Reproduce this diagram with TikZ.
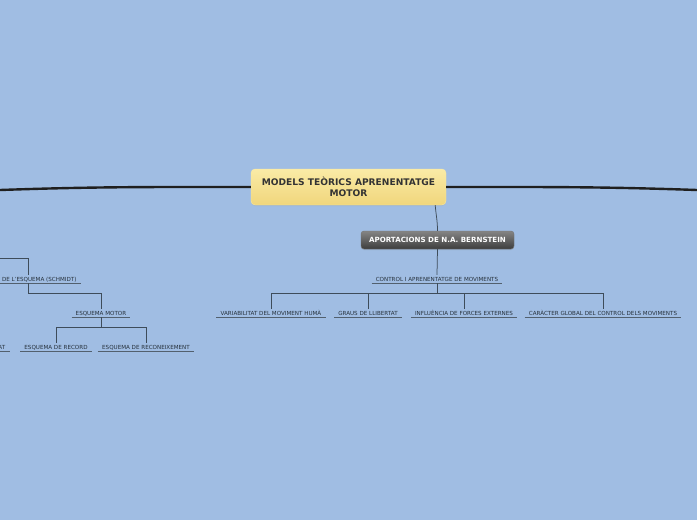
\documentclass[tikz,border=0pt]{standalone}
\usepackage{fontspec}
\setmainfont{DejaVu Sans}
\usetikzlibrary{positioning,shadows}
\definecolor{mapbg}{HTML}{A0BDE3}
\definecolor{rootTop}{HTML}{FAEBA6}
\definecolor{rootBottom}{HTML}{F0D67C}
\definecolor{leaftext}{HTML}{26313C}
\definecolor{branchline}{HTML}{3E4C5A}
\definecolor{rulecol}{HTML}{52606E}

\begin{document}
\begin{tikzpicture}[x=1pt,y=-1pt,
	root_node/.style={rounded corners=4pt,top color=rootTop,bottom color=rootBottom,draw=rootTop,minimum width=195pt,minimum height=36pt,align=center,inner sep=2pt,font=\bfseries\fontsize{9.1}{11.2}\selectfont,text=black!80,drop shadow={opacity=0.15,shadow xshift=0pt,shadow yshift=-1pt}},
	topic_node/.style={rounded corners=3pt,top color=black!48,bottom color=black!76,draw=black!55,minimum width=153pt,minimum height=18pt,inner sep=1pt,font=\bfseries\fontsize{7.1}{8}\selectfont,text=white,drop shadow={opacity=0.25,shadow xshift=0pt,shadow yshift=-1pt}},
	leaf_node/.style={anchor=south,font=\fontsize{5.6}{6}\selectfont,text=leaftext,text height=4.1pt,text depth=0pt,inner xsep=4pt,inner ysep=1.8pt,append after command={(\tikzlastnode.south west) edge[draw=rulecol,line width=0.7pt] (\tikzlastnode.south east)}},
	trunk/.style={draw=black!88,line width=2.4pt},
	branch/.style={draw=branchline,line width=0.75pt}]

	\fill[mapbg] (0,0) rectangle (697,520);
	\useasboundingbox (0,0) rectangle (697,520);
	\clip (0,0) rectangle (697,520);

	% central idea
	\node[root_node] (root) at (348.5,187) {MODELS TEÒRICS APRENENTATGE\\MOTOR};
	\coordinate (offleft) at (0,190);
	\coordinate (offright) at (697,190);
	\draw[trunk] (offleft) to[out=2,in=180] (root.west);
	\draw[trunk] (root.east) to[out=0,in=178] (offright);

	% Bernstein branch
	\node[topic_node] (bern) at (437.5,240) {APORTACIONS DE N.A. BERNSTEIN};
	\node[leaf_node] (ctrl) at (437,283) {CONTROL I APRENENTATGE DE MOVIMENTS};
	\node[leaf_node] (var) at (271,317) {VARIABILITAT DEL MOVIMENT HUMÀ};
	\node[leaf_node] (graus) at (368,317) {GRAUS DE LLIBERTAT};
	\node[leaf_node] (forces) at (464,317) {INFLUÈNCIA DE FORCES EXTERNES};
	\node[leaf_node] (global) at (603,317) {CARÀCTER GLOBAL DEL CONTROL DELS MOVIMENTS};

	\draw[branch] ([xshift=-11pt]root.south east) to[out=-85,in=90] (bern.north);
	\draw[branch] (bern.south) -- (ctrl.north);
	\foreach \kid in {var,graus,forces,global}
		\draw[branch] (ctrl.south) -- ++(0,10) -| (\kid.north);

	% Schmidt branch (cut by the left edge)
	\coordinate (offschmidt) at (-40,258);
	\node[leaf_node] (schmidt) at (28,283) {TEORIA DE L'ESQUEMA (SCHMIDT)};
	\node[leaf_node] (motor) at (101,317) {ESQUEMA MOTOR};
	\node[leaf_node] (record) at (56,351) {ESQUEMA DE RECORD};
	\node[leaf_node] (recon) at (146,351) {ESQUEMA DE RECONEIXEMENT};
	\node[leaf_node,anchor=south east] (other) at (9.5,351) {VARIABILITAT};

	\draw[branch] (offschmidt) -| (schmidt.north);
	\draw[branch] (schmidt.south) -- ++(0,10) -| (motor.north);
	\foreach \kid in {record,recon}
		\draw[branch] (motor.south) -- ++(0,10) -| (\kid.north);
\end{tikzpicture}
\end{document}
